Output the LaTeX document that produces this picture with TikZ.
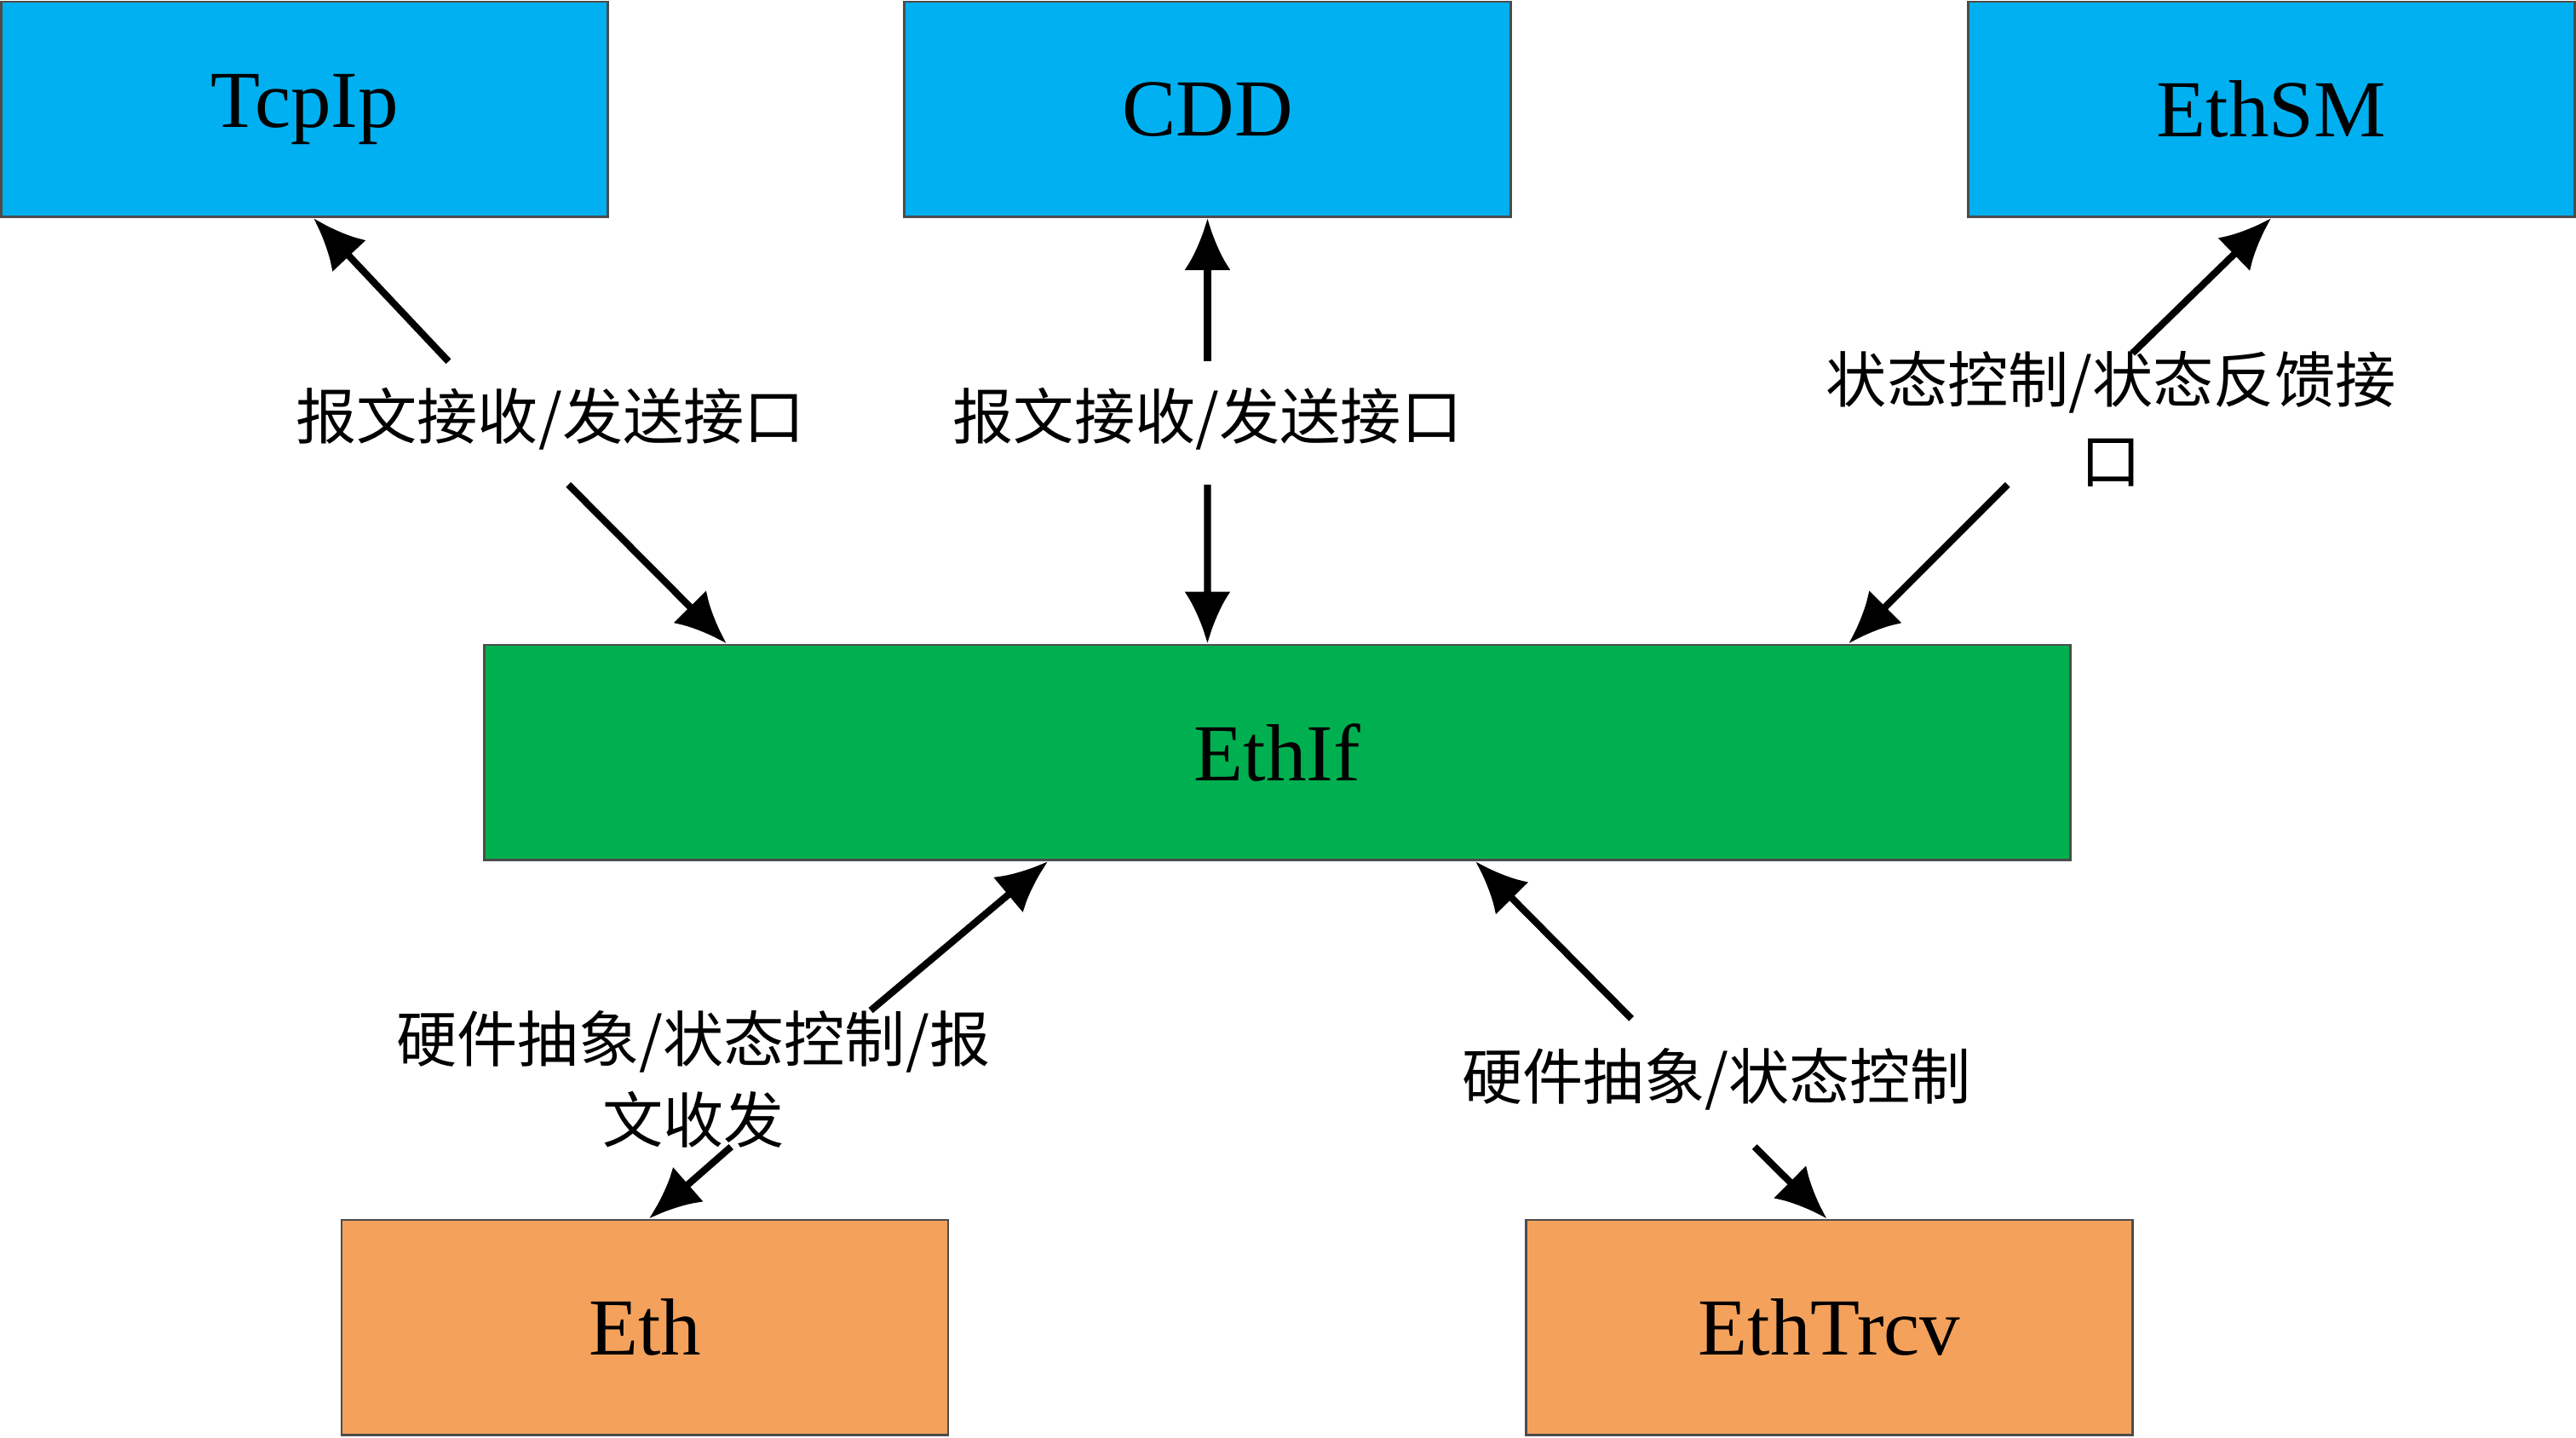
\documentclass[tikz,border=0pt]{standalone}
\usepackage{fontspec}
\setmainfont{Liberation Serif}
\newfontfamily\cjk{Noto Sans CJK SC}
\usetikzlibrary{positioning,arrows.meta}

\definecolor{topblue}{RGB}{0,176,240}
\definecolor{midgreen}{RGB}{0,176,80}
\definecolor{lowbrown}{RGB}{244,161,92}

\tikzset{
    blk/.style={draw=black!70,line width=0.4pt,minimum width=3.69cm,minimum height=1.31cm,
        inner sep=0pt,font=\fontsize{14}{16}\selectfont},
    lbl/.style={font=\cjk\fontsize{10.5}{14}\selectfont,align=center,inner sep=0pt},
    arr/.style={line width=1.2pt,-{Latex[length=9pt,width=8pt]}}
}

\begin{document}
\begin{tikzpicture}[x=0.01cm,y=-0.01cm]
    \useasboundingbox (0,0) rectangle (1568,875);
    \node[blk,fill=topblue] (tcpip) at (185.5,66.5) {TcpIp};
    \node[blk,fill=topblue] (cdd) at (735,66.5) {CDD};
    \node[blk,fill=topblue] (ethsm) at (1382.5,66.5) {EthSM};
    \node[blk,fill=midgreen,minimum width=9.65cm] (ethif) at (777.5,458) {EthIf};
    \node[blk,fill=lowbrown] (eth) at (392.5,808) {Eth};
    \node[blk,fill=lowbrown] (ethtrcv) at (1113.5,808) {EthTrcv};
    % free ends of the arrows
    \coordinate (t1) at (273,220);
    \coordinate (t2) at (346,295);
    \coordinate (c1) at (735,220);
    \coordinate (c2) at (735,295);
    \coordinate (s1) at (1298,215);
    \coordinate (s2) at (1222,295);
    \coordinate (e1) at (530,615);
    \coordinate (e2) at (445,698);
    \coordinate (r1) at (993,620);
    \coordinate (r2) at (1068,698);
    \draw[arr] (t1) -- ([xshift=1.5pt]tcpip.south);
    \draw[arr] (t2) -- ([xshift=-3.35cm]ethif.north);
    \draw[arr] (c1) -- (cdd.south);
    \draw[arr] (c2) -- ([xshift=-0.425cm]ethif.north);
    \draw[arr] (s1) -- (ethsm.south);
    \draw[arr] (s2) -- ([xshift=3.475cm]ethif.north);
    \draw[arr] (e1) -- ([xshift=-1.395cm]ethif.south);
    \draw[arr] (e2) -- ([xshift=0.025cm]eth.north);
    \draw[arr] (r1) -- ([xshift=1.205cm]ethif.south);
    \draw[arr] (r2) -- ([xshift=-0.015cm]ethtrcv.north);
    % labels
    \node[lbl] (l1) at (335,255) {报文接收/发送接口};
    \node[lbl] (l2) at (735,255) {报文接收/发送接口};
    \node[lbl] (l3) at (1285,255) {状态控制/状态反馈接\\口};
    \node[lbl] (l4) at (422,657) {硬件抽象/状态控制/报\\文收发};
    \node[lbl] (l5) at (1045,657) {硬件抽象/状态控制};
\end{tikzpicture}
\end{document}
